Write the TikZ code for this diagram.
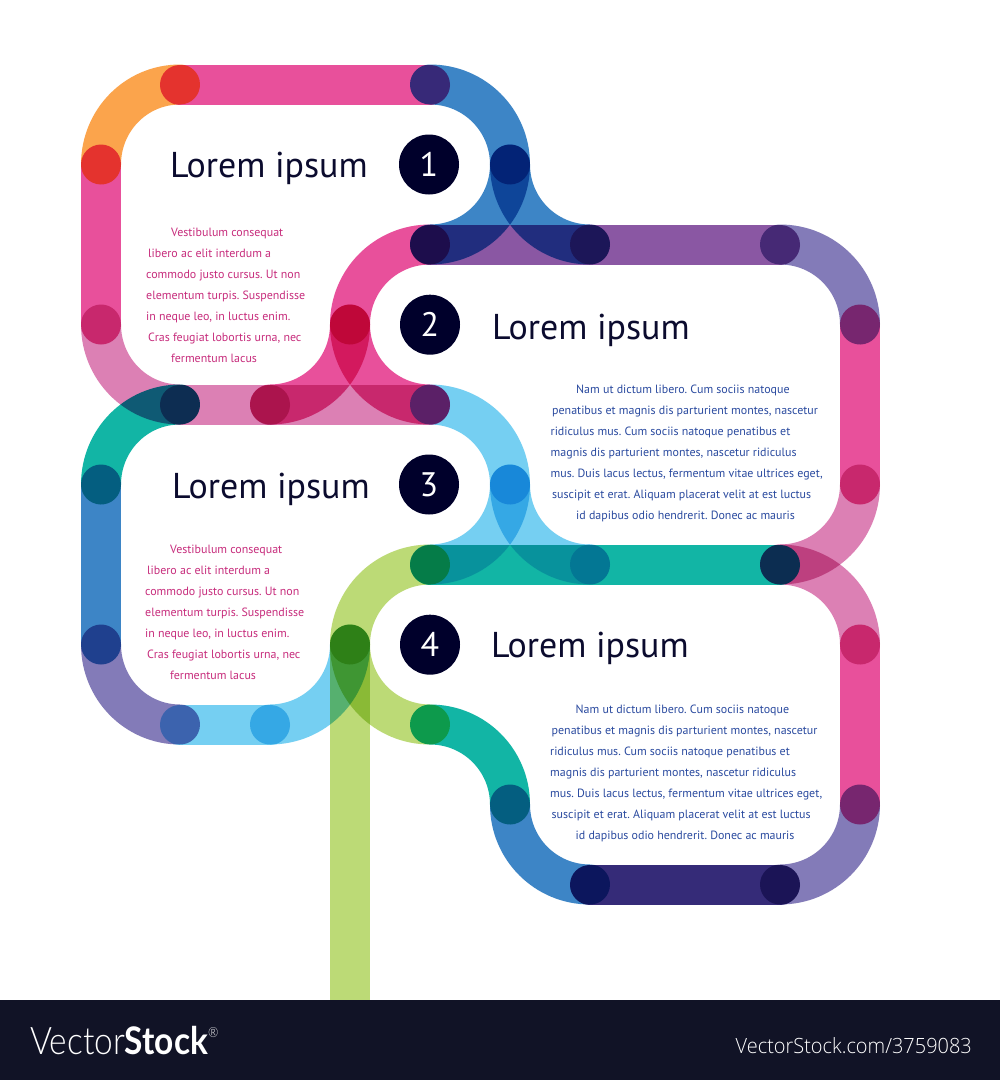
\documentclass[tikz,border=0pt]{standalone}
\usepackage{fontspec}
\usepackage{xcolor}
\setmainfont{PT Sans}
\newfontfamily\logolight{Lato Light}
\newfontfamily\logobold{Lato}
\newfontfamily\stockfont{Open Sans Light}
\usetikzlibrary{positioning}
\definecolor{orangeband}{HTML}{FBA44C}
\definecolor{pinkband}{HTML}{E8509B}
\definecolor{mauveband}{HTML}{DC80B4}
\definecolor{purpleband}{HTML}{8A57A3}
\definecolor{lavband}{HTML}{837BB8}
\definecolor{blueband}{HTML}{3D85C6}
\definecolor{skyband}{HTML}{75CFF2}
\definecolor{tealband}{HTML}{12B5A5}
\definecolor{limeband}{HTML}{BCDA76}
\definecolor{indigoband}{HTML}{352B78}
\definecolor{numdark}{HTML}{00002B}
\definecolor{titledark}{HTML}{0B0B2E}
\definecolor{footerdark}{HTML}{111326}
\definecolor{pinktext}{HTML}{C72C7C}
\definecolor{bluetext}{HTML}{2A4A9F}
\tikzset{
  band/.style={line width=40pt, line cap=round, blend mode=multiply, draw=#1},
  numdot/.style={circle, fill=numdark, text=white, minimum size=60pt, inner sep=0pt, font=\fontsize{34}{34}\selectfont},
  heading/.style={anchor=base west, inner sep=0pt, text=titledark, font=\fontsize{35.9}{36}\selectfont},
  bodyline/.style={anchor=base west, inner sep=0pt, font=\fontsize{11.95}{12}\selectfont\frenchspacing}
}
\newcommand{\pinklines}[3]{
  \foreach \dx/\txt [count=\i from 0] in {25/Vestibulum consequat, 2/libero ac elit interdum a, 0/commodo justo cursus. Ut non, 0/elementum turpis. Suspendisse, 0/{in neque leo, in luctus enim.}, 2/{Cras feugiat lobortis urna, nec}, 25/fermentum lacus}
    \node[bodyline, text=pinktext] (#1\i) at ({#2+\dx},{#3+21*\i}) {\txt};
}
\newcommand{\bluelines}[3]{
  \foreach \dx/\txt [count=\i from 0] in {25.5/Nam ut dictum libero. Cum sociis natoque, 1.5/{penatibus et magnis dis parturient montes, nascetur}, 0/ridiculus mus. Cum sociis natoque penatibus et, 0/{magnis dis parturient montes, nascetur ridiculus}, 0/{mus. Duis lacus lectus, fermentum vitae ultrices eget,}, 1.5/suscipit et erat. Aliquam placerat velit at est luctus, 25.5/id dapibus odio hendrerit. Donec ac mauris}
    \node[bodyline, text=bluetext] (#1\i) at ({#2+\dx},{#3+21*\i}) {\txt};
}
\begin{document}
\begin{tikzpicture}[x=1pt,y=-1pt]
  \useasboundingbox (0,0) rectangle (1000,1080);
  \fill[white] (0,0) rectangle (1000,1080);

  % Grid of junctions
  \foreach \c/\x in {a/101,b/180,c/270,d/350,e/430,f/510,g/590,h/780,k/860}
    \foreach \r/\y in {1/84.5,2/164.5,3/244.5,4/324.5,5/404.5,6/484.5,7/564.5,8/644.5,9/724.5,10/804.5,11/884.5}
      \coordinate (\c\r) at (\x,\y);
  \coordinate (stem) at (350,1020);

  % Box 1
  \draw[band=orangeband] (a2) to[out=90,in=180] (b1);
  \draw[band=pinkband] (b1) -- (e1);
  \draw[band=blueband] (e1) to[out=0,in=90] (f2);
  \draw[band=blueband] (f2) to[out=-90,in=0] (e3);
  \draw[band=blueband] (f2) to[out=-90,in=180] (g3);
  \draw[band=pinkband] (a2) -- (a4);
  \draw[band=mauveband] (a4) to[out=-90,in=180] (b5);
  \draw[band=mauveband] (b5) -- (c5);
  \draw[band=mauveband] (c5) -- (e5);

  % Box 2
  \draw[band=pinkband] (c5) to[out=0,in=-90] (d4);
  \draw[band=pinkband] (d4) to[out=90,in=180] (e3);
  \draw[band=pinkband] (d4) to[out=-90,in=180] (e5);
  \draw[band=purpleband] (e3) -- (h3);
  \draw[band=mauveband] (g3) -- (g3);
  \draw[band=lavband] (h3) to[out=0,in=90] (k4);
  \draw[band=pinkband] (k4) -- (k6);
  \draw[band=mauveband] (k6) to[out=-90,in=0] (h7);

  % Box 3
  \draw[band=tealband] (a6) to[out=90,in=180] (b5);
  \draw[band=blueband] (a6) -- (a8);
  \draw[band=lavband] (a8) to[out=-90,in=180] (b9);
  \draw[band=skyband] (b9) -- (c9);
  \draw[band=skyband] (c9) to[out=0,in=-90] (d8);
  \draw[band=skyband] (e5) to[out=0,in=90] (f6);
  \draw[band=skyband] (f6) to[out=-90,in=0] (e7);
  \draw[band=skyband] (f6) to[out=-90,in=180] (g7);
  \draw[band=skyband] (g7) -- (g7);
  \draw[band=tealband] (e7) -- (h7);

  % Box 4
  \draw[band=limeband] (d8) to[out=90,in=180] (e7);
  \draw[band=limeband] (d8) to[out=-90,in=180] (e9);
  \draw[band=limeband] (d8) -- (stem);
  \draw[band=tealband] (e9) to[out=0,in=90] (f10);
  \draw[band=blueband] (f10) to[out=-90,in=180] (g11);
  \draw[band=indigoband] (g11) -- (h11);
  \draw[band=lavband] (h11) to[out=0,in=-90] (k10);
  \draw[band=pinkband] (k10) -- (k8);
  \draw[band=mauveband] (k8) to[out=90,in=0] (h7);

  % Numbers
  \node[numdot] (num1) at (429,164.5) {1};
  \node[numdot] (num2) at (430,324.7) {2};
  \node[numdot] (num3) at (429,484.5) {3};
  \node[numdot] (num4) at (430,644.7) {4};

  % Headings
  \node[heading] (head1) at (170,177) {Lorem ipsum};
  \node[heading] (head2) at (492,339) {Lorem ipsum};
  \node[heading] (head3) at (172,498) {Lorem ipsum};
  \node[heading] (head4) at (491,657) {Lorem ipsum};

  % Body text
  \pinklines{pinka}{146}{236}
  \bluelines{bluea}{550.5}{393.3}
  \pinklines{pinkb}{145}{553.5}
  \bluelines{blueb}{550}{713.3}

  % Footer
  \fill[footerdark] (0,1000) rectangle (1000,1080);
  \node[anchor=base west, inner sep=0pt, text=white, font=\fontsize{38}{38}\selectfont] (logo) at (30,1054) {\scalebox{.88}[1]{\logolight Vector\logobold\textbf{Stock}\raisebox{17pt}{\fontsize{14}{14}\selectfont\logolight ®}}};
  \node[anchor=base east, inner sep=0pt, text=white, font=\fontsize{21}{21}\selectfont] (stockid) at (972,1053) {\scalebox{.95}[1]{\stockfont VectorStock.com/3759083}};
\end{tikzpicture}
\end{document}
